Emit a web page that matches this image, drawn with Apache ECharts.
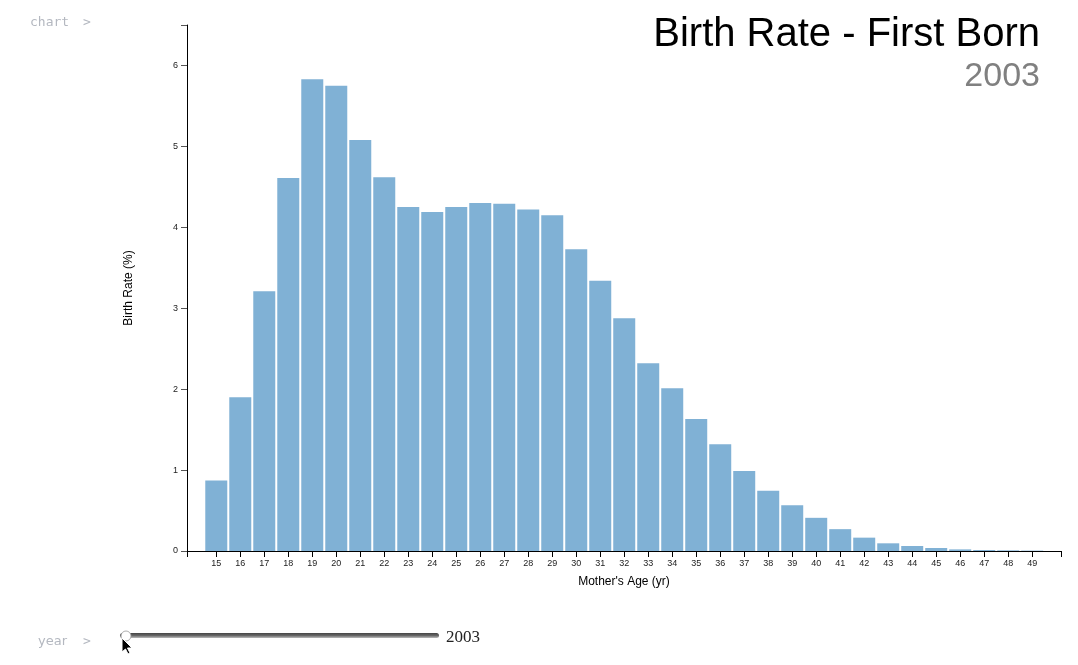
<!DOCTYPE html>
<html>
<head>
<meta charset="utf-8">
<script src="https://cdn.jsdelivr.net/npm/echarts@6/dist/echarts.min.js"></script>
<style>
html,body{margin:0;padding:0;background:#fff;}
#c{width:1078px;height:665px;}
</style>
</head>
<body>
<div id="c"></div>
<script>
var ages = [15,16,17,18,19,20,21,22,23,24,25,26,27,28,29,30,31,32,33,34,35,36,37,38,39,40,41,42,43,44,45,46,47,48,49];
var rates = [0.87,1.90,3.21,4.61,5.83,5.75,5.08,4.62,4.25,4.19,4.25,4.30,4.29,4.22,4.15,3.73,3.34,2.875,2.32,2.01,1.63,1.32,0.99,0.745,0.565,0.41,0.27,0.165,0.095,0.062,0.037,0.02,0.012,0.008,0.005];
var yTicks = [0,1,2,3,4,5,6];
var titleText = 'Birth Rate - First Born';
var yearText = '2003';
var xMin = 13.78, xMax = 50.2, yMax = 6.5;

var chart = echarts.init(document.getElementById('c'));
var font = '"Liberation Sans", Arial, Helvetica, sans-serif';
var option = {
  animation: false,
  backgroundColor: '#fff',
  title: [
    {text: titleText, right: 33, top: 10, textStyle: {fontFamily: font, fontSize: 40, fontWeight: 'normal', color: '#000'}},
    {text: yearText, right: 33, top: 55, textStyle: {fontFamily: font, fontSize: 34, fontWeight: 'normal', color: '#808080'}}
  ],
  grid: {left: 187, right: 17, top: 25, bottom: 114},
  xAxis: {
    type: 'value', min: xMin, max: xMax,
    name: "Mother's Age (yr)", nameLocation: 'middle', nameGap: 25,
    nameTextStyle: {fontFamily: font, fontSize: 12, color: '#000'},
    axisLine: {show: true, lineStyle: {color: '#000', width: 1}},
    axisTick: {show: true, length: 6, lineStyle: {color: '#000'}, customValues: [xMin].concat(ages).concat([xMax])},
    axisLabel: {fontFamily: font, fontSize: 9, color: '#222', margin: 8, customValues: ages},
    splitLine: {show: false}
  },
  yAxis: {
    type: 'value', min: 0, max: yMax,
    name: 'Birth Rate (%)', nameLocation: 'middle', nameGap: 52, nameRotate: 90,
    nameTextStyle: {fontFamily: font, fontSize: 12, color: '#000'},
    axisLine: {show: true, lineStyle: {color: '#000', width: 1}},
    axisTick: {show: true, length: 6, lineStyle: {color: '#555'}, customValues: yTicks.concat([yMax])},
    axisLabel: {fontFamily: font, fontSize: 9, color: '#222', margin: 9, customValues: yTicks},
    splitLine: {show: false}
  },
  series: [{
    type: 'bar',
    barWidth: 22,
    data: ages.map(function(a, i){ return [a, rates[i]]; }),
    itemStyle: {color: '#80b1d5'}
  }],
  graphic: [
    {type: 'text', left: 30, top: 16, style: {text: 'chart', font: '13px "DejaVu Sans Mono", monospace', fill: '#b4b8c0'}},
    {type: 'text', left: 83, top: 16, style: {text: '>', font: '13px "DejaVu Sans Mono", monospace', fill: '#b4b8c0'}},
    {type: 'text', left: 38, top: 635, style: {text: 'year', font: '13px "DejaVu Sans", sans-serif', fill: '#b4b8c0'}},
    {type: 'text', left: 83, top: 635, style: {text: '>', font: '13px "DejaVu Sans Mono", monospace', fill: '#b4b8c0'}},
    {type: 'rect', shape: {x: 120, y: 633, width: 319, height: 5, r: 2.5},
      style: {fill: new echarts.graphic.LinearGradient(0, 0, 0, 1, [{offset: 0, color: '#444'}, {offset: 0.5, color: '#666'}, {offset: 1, color: '#bbb'}])}},
    {type: 'circle', shape: {cx: 126, cy: 636, r: 5}, style: {fill: '#fff', stroke: '#999', lineWidth: 0.8}},
    {type: 'polygon', shape: {points: [[122,638],[122,652],[125.5,649],[128,654],[130,653],[127.5,648],[132,648]]}, style: {fill: '#000', stroke: '#fff', lineWidth: 1}},
    {type: 'text', left: 446, top: 629, style: {text: yearText, font: '17px "Liberation Serif", "Times New Roman", serif', fill: '#222'}}
  ]
};
chart.setOption(option);
</script>
</body>
</html>
